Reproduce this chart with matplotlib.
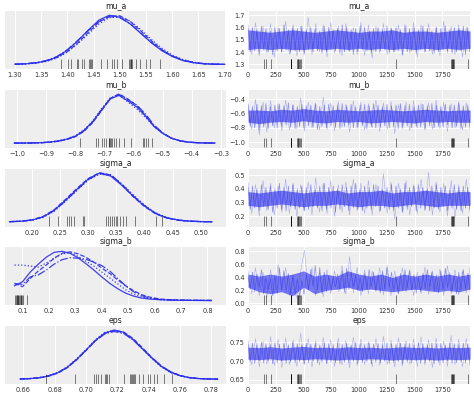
import numpy as np
import matplotlib.pyplot as plt
from matplotlib.ticker import MultipleLocator

names = ['mu_a', 'mu_b', 'sigma_a', 'sigma_b', 'eps']
blue = '#2a2eec'
styles = ['-', '--', ':', '-.']

# ---- KDE of each chain (relative density)
mu_a_x = [1.30, 1.32, 1.34, 1.36, 1.38, 1.40, 1.42, 1.44, 1.46, 1.48, 1.50,
          1.52, 1.54, 1.56, 1.58, 1.60, 1.62, 1.64, 1.66, 1.68, 1.70]
mu_a_kde = [
    [0.004, 0.012, 0.03, 0.07, 0.15, 0.29, 0.48, 0.70, 0.90, 1.00, 0.96, 0.82, 0.63, 0.44, 0.28, 0.16, 0.08, 0.035, 0.013, 0.004, 0.001],
    [0.003, 0.010, 0.03, 0.07, 0.14, 0.26, 0.44, 0.65, 0.86, 0.98, 0.99, 0.87, 0.68, 0.48, 0.30, 0.17, 0.08, 0.035, 0.012, 0.004, 0.001],
    [0.002, 0.008, 0.025, 0.06, 0.13, 0.25, 0.42, 0.62, 0.82, 0.95, 0.97, 0.88, 0.71, 0.51, 0.33, 0.19, 0.10, 0.045, 0.018, 0.006, 0.002],
    [0.004, 0.013, 0.035, 0.08, 0.16, 0.30, 0.49, 0.69, 0.87, 0.97, 0.95, 0.83, 0.64, 0.45, 0.29, 0.17, 0.09, 0.04, 0.015, 0.005, 0.001],
]
mu_b_x = [-1.01, -0.98, -0.95, -0.92, -0.89, -0.86, -0.83, -0.80, -0.77, -0.74, -0.71, -0.68,
          -0.65, -0.62, -0.59, -0.56, -0.53, -0.50, -0.47, -0.44, -0.41, -0.38, -0.35, -0.32]
mu_b_kde = [
    [0.000, 0.001, 0.003, 0.008, 0.02, 0.04, 0.08, 0.14, 0.26, 0.44, 0.68, 0.90, 0.97, 0.86, 0.74, 0.56, 0.34, 0.20, 0.10, 0.045, 0.018, 0.007, 0.002, 0.001],
    [0.000, 0.000, 0.002, 0.006, 0.015, 0.035, 0.07, 0.13, 0.24, 0.42, 0.66, 0.91, 1.00, 0.90, 0.77, 0.57, 0.35, 0.20, 0.10, 0.045, 0.018, 0.007, 0.002, 0.000],
    [0.001, 0.002, 0.004, 0.010, 0.022, 0.045, 0.085, 0.15, 0.27, 0.45, 0.70, 0.92, 0.98, 0.84, 0.70, 0.53, 0.34, 0.20, 0.10, 0.05, 0.02, 0.008, 0.003, 0.001],
    [0.000, 0.001, 0.003, 0.007, 0.018, 0.04, 0.08, 0.14, 0.25, 0.43, 0.67, 0.90, 0.99, 0.88, 0.78, 0.60, 0.37, 0.21, 0.10, 0.045, 0.018, 0.007, 0.002, 0.001],
]
sigma_a_x = [0.16, 0.18, 0.20, 0.22, 0.24, 0.26, 0.28, 0.30, 0.32, 0.34,
             0.36, 0.38, 0.40, 0.42, 0.44, 0.46, 0.48, 0.50, 0.52]
sigma_a_kde = [
    [0.002, 0.010, 0.035, 0.10, 0.24, 0.44, 0.66, 0.87, 0.99, 0.93, 0.74, 0.52, 0.32, 0.17, 0.08, 0.035, 0.013, 0.004, 0.001],
    [0.003, 0.012, 0.040, 0.11, 0.25, 0.46, 0.68, 0.88, 1.00, 0.95, 0.75, 0.51, 0.31, 0.16, 0.075, 0.03, 0.011, 0.003, 0.001],
    [0.002, 0.009, 0.030, 0.09, 0.22, 0.42, 0.64, 0.85, 0.97, 0.94, 0.77, 0.55, 0.34, 0.18, 0.085, 0.038, 0.015, 0.005, 0.001],
    [0.003, 0.011, 0.038, 0.10, 0.23, 0.43, 0.65, 0.86, 0.98, 0.96, 0.76, 0.53, 0.33, 0.17, 0.08, 0.033, 0.012, 0.004, 0.001],
]
sigma_b_x = [0.07, 0.10, 0.13, 0.16, 0.19, 0.22, 0.25, 0.28, 0.31, 0.34, 0.37, 0.40,
             0.43, 0.46, 0.49, 0.52, 0.55, 0.58, 0.62, 0.66, 0.70, 0.74, 0.78, 0.815]
sigma_b_kde = [
    [0.30, 0.38, 0.58, 0.74, 0.88, 0.98, 1.00, 0.96, 0.87, 0.75, 0.62, 0.48, 0.35, 0.24, 0.15, 0.09, 0.05, 0.03, 0.015, 0.008, 0.004, 0.002, 0.001, 0.0],
    [0.35, 0.28, 0.45, 0.60, 0.72, 0.86, 0.96, 0.99, 0.95, 0.88, 0.78, 0.66, 0.55, 0.42, 0.30, 0.20, 0.12, 0.07, 0.03, 0.015, 0.008, 0.004, 0.002, 0.001],
    [0.72, 0.72, 0.70, 0.68, 0.76, 0.86, 0.95, 0.97, 0.90, 0.80, 0.70, 0.58, 0.46, 0.34, 0.22, 0.13, 0.07, 0.04, 0.02, 0.01, 0.005, 0.002, 0.001, 0.0],
    [0.34, 0.33, 0.48, 0.52, 0.62, 0.74, 0.83, 0.87, 0.86, 0.84, 0.78, 0.71, 0.60, 0.45, 0.30, 0.18, 0.10, 0.05, 0.02, 0.01, 0.005, 0.002, 0.001, 0.0],
]
eps_x = [0.658, 0.664, 0.670, 0.676, 0.682, 0.688, 0.694, 0.700, 0.706, 0.712, 0.718,
         0.724, 0.730, 0.736, 0.742, 0.748, 0.754, 0.760, 0.766, 0.772, 0.778, 0.784]
eps_kde = [
    [0.004, 0.011, 0.028, 0.064, 0.13, 0.24, 0.40, 0.59, 0.79, 0.94, 1.00, 0.955, 0.81, 0.62, 0.43, 0.26, 0.14, 0.07, 0.03, 0.012, 0.005, 0.002],
    [0.003, 0.010, 0.026, 0.060, 0.12, 0.23, 0.39, 0.58, 0.78, 0.93, 0.99, 0.96, 0.83, 0.64, 0.44, 0.27, 0.15, 0.075, 0.032, 0.013, 0.005, 0.002],
    [0.005, 0.013, 0.031, 0.068, 0.14, 0.25, 0.41, 0.60, 0.80, 0.95, 0.99, 0.94, 0.80, 0.61, 0.42, 0.25, 0.135, 0.065, 0.028, 0.011, 0.004, 0.001],
    [0.004, 0.012, 0.029, 0.066, 0.13, 0.24, 0.40, 0.59, 0.78, 0.92, 0.97, 0.93, 0.80, 0.62, 0.44, 0.27, 0.15, 0.075, 0.033, 0.014, 0.006, 0.002],
]

# ---- traces: dense core band (every 100 draws), fuzz highs/lows and extreme excursions
knots = np.arange(0, 2001, 100)
mu_a_hi = [1.58, 1.57, 1.56, 1.57, 1.58, 1.57, 1.56, 1.57, 1.58, 1.57, 1.56, 1.57, 1.57, 1.58, 1.56, 1.57, 1.57, 1.56, 1.57, 1.58, 1.57]
mu_a_lo = [1.42, 1.43, 1.42, 1.43, 1.42, 1.42, 1.43, 1.42, 1.43, 1.42, 1.43, 1.42, 1.43, 1.42, 1.43, 1.42, 1.43, 1.42, 1.43, 1.42, 1.43]
mu_a_up = [1.59, 1.60, 1.58, 1.61, 1.59, 1.57, 1.60, 1.59, 1.62, 1.58, 1.60, 1.59, 1.61, 1.58, 1.60, 1.59, 1.57, 1.61, 1.60, 1.58, 1.59, 1.62, 1.60, 1.58, 1.59,
           1.61, 1.60, 1.57, 1.59, 1.60, 1.58, 1.61, 1.59, 1.60, 1.58, 1.62, 1.59, 1.60, 1.58, 1.61, 1.59, 1.57, 1.60, 1.59, 1.61, 1.58, 1.60, 1.59, 1.61, 1.60]
mu_a_dn = [1.40, 1.41, 1.39, 1.42, 1.40, 1.38, 1.41, 1.40, 1.42, 1.39, 1.41, 1.40, 1.38, 1.42, 1.40, 1.41, 1.39, 1.40, 1.42, 1.41, 1.39, 1.40, 1.41, 1.38, 1.40,
           1.42, 1.41, 1.39, 1.40, 1.41, 1.42, 1.39, 1.40, 1.41, 1.38, 1.40, 1.41, 1.39, 1.42, 1.40, 1.41, 1.39, 1.40, 1.42, 1.41, 1.39, 1.40, 1.41, 1.38, 1.40]
mu_a_spk = [1.62, 1.38, 1.64, 1.37, 1.61, 1.39, 1.63, 1.36, 1.60, 1.40, 1.65, 1.38, 1.62, 1.37, 1.61, 1.39, 1.68, 1.38, 1.63, 1.40,
            1.62, 1.36, 1.64, 1.39, 1.61, 1.37, 1.63, 1.40, 1.60, 1.38, 1.64, 1.37, 1.62, 1.35, 1.61, 1.39, 1.63, 1.38, 1.60, 1.40,
            1.62, 1.37, 1.61, 1.39, 1.64, 1.36, 1.62, 1.40, 1.63, 1.38, 1.60, 1.37, 1.65, 1.39, 1.61, 1.38, 1.62, 1.36, 1.60, 1.40]
mu_b_hi = [-0.55, -0.55, -0.56, -0.54, -0.55, -0.53, -0.55, -0.56, -0.54, -0.55, -0.56, -0.55, -0.54, -0.55, -0.56, -0.55, -0.54, -0.55, -0.56, -0.55, -0.55]
mu_b_lo = [-0.72, -0.74, -0.72, -0.71, -0.72, -0.70, -0.72, -0.73, -0.71, -0.72, -0.71, -0.73, -0.72, -0.71, -0.72, -0.73, -0.71, -0.72, -0.71, -0.72, -0.72]
mu_b_up = [-0.48, -0.50, -0.47, -0.49, -0.46, -0.50, -0.48, -0.47, -0.49, -0.45, -0.48, -0.50, -0.47, -0.49, -0.48, -0.46, -0.50, -0.48, -0.47, -0.49, -0.48, -0.46, -0.49, -0.47, -0.50,
           -0.48, -0.47, -0.49, -0.46, -0.48, -0.50, -0.47, -0.49, -0.48, -0.46, -0.49, -0.47, -0.50, -0.48, -0.47, -0.49, -0.46, -0.48, -0.50, -0.47, -0.49, -0.48, -0.46, -0.49, -0.48]
mu_b_dn = [-0.78, -0.80, -0.83, -0.79, -0.81, -0.77, -0.80, -0.78, -0.76, -0.79, -0.81, -0.78, -0.80, -0.77, -0.79, -0.82, -0.78, -0.80, -0.77, -0.79, -0.81, -0.78, -0.76, -0.80, -0.79,
           -0.77, -0.81, -0.78, -0.80, -0.79, -0.77, -0.80, -0.78, -0.81, -0.79, -0.77, -0.80, -0.78, -0.79, -0.81, -0.77, -0.80, -0.78, -0.79, -0.76, -0.80, -0.78, -0.81, -0.79, -0.78]
mu_b_spk = [-0.45, -0.82, -0.40, -0.90, -0.44, -0.86, -0.42, -0.80, -0.46, -0.84, -0.41, -0.83, -0.47, -0.81, -0.38, -0.85, -0.44, -0.80, -0.46, -0.83,
            -0.37, -0.82, -0.45, -0.84, -0.43, -0.79, -0.47, -0.86, -0.42, -0.81, -0.44, -0.83, -0.46, -0.80, -0.41, -0.85, -0.45, -0.82, -0.43, -0.88,
            -0.47, -0.81, -0.44, -0.84, -0.42, -0.80, -0.46, -0.83, -0.45, -0.82, -0.41, -0.81, -0.44, -0.85, -0.46, -0.80, -0.43, -0.83, -0.45, -0.82]
sigma_a_hi = [0.38, 0.37, 0.38, 0.39, 0.38, 0.37, 0.38, 0.38, 0.39, 0.37, 0.38, 0.38, 0.39, 0.37, 0.38, 0.38, 0.39, 0.38, 0.37, 0.38, 0.38]
sigma_a_lo = [0.28, 0.27, 0.28, 0.29, 0.28, 0.27, 0.28, 0.28, 0.29, 0.28, 0.27, 0.28, 0.28, 0.27, 0.28, 0.29, 0.28, 0.27, 0.28, 0.28, 0.28]
sigma_a_up = [0.41, 0.42, 0.40, 0.43, 0.41, 0.42, 0.40, 0.44, 0.41, 0.42, 0.43, 0.40, 0.42, 0.41, 0.43, 0.40, 0.42, 0.44, 0.41, 0.42, 0.40, 0.43, 0.41, 0.42, 0.44,
              0.40, 0.42, 0.41, 0.43, 0.42, 0.40, 0.41, 0.43, 0.42, 0.40, 0.44, 0.41, 0.42, 0.43, 0.41, 0.40, 0.42, 0.43, 0.41, 0.42, 0.40, 0.43, 0.41, 0.42, 0.41]
sigma_a_dn = [0.25, 0.26, 0.24, 0.27, 0.25, 0.23, 0.26, 0.25, 0.24, 0.27, 0.25, 0.26, 0.24, 0.25, 0.27, 0.26, 0.24, 0.25, 0.26, 0.23, 0.25, 0.27, 0.24, 0.26, 0.25,
              0.24, 0.26, 0.25, 0.27, 0.24, 0.26, 0.25, 0.24, 0.26, 0.23, 0.25, 0.27, 0.24, 0.26, 0.25, 0.24, 0.26, 0.25, 0.27, 0.24, 0.26, 0.25, 0.24, 0.26, 0.25]
sigma_a_spk = [0.45, 0.22, 0.43, 0.20, 0.46, 0.24, 0.44, 0.21, 0.42, 0.23, 0.47, 0.22, 0.44, 0.20, 0.43, 0.24, 0.45, 0.21, 0.48, 0.23,
               0.44, 0.22, 0.46, 0.20, 0.43, 0.23, 0.45, 0.21, 0.47, 0.24, 0.44, 0.22, 0.46, 0.21, 0.43, 0.23, 0.51, 0.22, 0.45, 0.18,
               0.44, 0.23, 0.46, 0.21, 0.43, 0.22, 0.47, 0.24, 0.52, 0.21, 0.45, 0.23, 0.44, 0.20, 0.46, 0.19, 0.43, 0.22, 0.47, 0.23]
sigma_b_hi = [0.45, 0.42, 0.45, 0.42, 0.45, 0.50, 0.42, 0.45, 0.42, 0.50, 0.45, 0.42, 0.45, 0.40, 0.45, 0.42, 0.45, 0.42, 0.45, 0.42, 0.45]
sigma_b_lo = [0.25, 0.18, 0.15, 0.18, 0.12, 0.25, 0.15, 0.20, 0.22, 0.25, 0.20, 0.22, 0.20, 0.18, 0.20, 0.22, 0.20, 0.18, 0.20, 0.18, 0.22]
sigma_b_up = [0.42, 0.48, 0.45, 0.52, 0.40, 0.38, 0.44, 0.55, 0.50, 0.46, 0.42, 0.38, 0.35, 0.45, 0.52, 0.58, 0.55, 0.48, 0.42, 0.40, 0.45, 0.50, 0.54, 0.48, 0.44,
              0.40, 0.46, 0.52, 0.48, 0.44, 0.50, 0.55, 0.48, 0.42, 0.46, 0.52, 0.50, 0.44, 0.40, 0.46, 0.52, 0.48, 0.44, 0.50, 0.54, 0.47, 0.43, 0.48, 0.52, 0.46]
sigma_b_dn = [0.22, 0.18, 0.25, 0.15, 0.20, 0.12, 0.15, 0.22, 0.18, 0.14, 0.12, 0.10, 0.14, 0.22, 0.26, 0.20, 0.15, 0.18, 0.22, 0.25, 0.20, 0.17, 0.22, 0.26, 0.20,
              0.18, 0.22, 0.25, 0.20, 0.16, 0.22, 0.25, 0.18, 0.15, 0.20, 0.24, 0.20, 0.16, 0.18, 0.22, 0.25, 0.19, 0.16, 0.22, 0.24, 0.18, 0.15, 0.20, 0.23, 0.19]
sigma_b_spk = [0.50, 0.15, 0.55, 0.12, 0.48, 0.10, 0.52, 0.14, 0.60, 0.18, 0.55, 0.12, 0.45, 0.09, 0.50, 0.82, 0.20, 0.55, 0.12, 0.48,
               0.10, 0.52, 0.15, 0.50, 0.18, 0.58, 0.14, 0.72, 0.16, 0.55, 0.12, 0.52, 0.15, 0.50, 0.18, 0.55, 0.13, 0.58, 0.12, 0.50,
               0.15, 0.55, 0.17, 0.52, 0.12, 0.48, 0.15, 0.56, 0.14, 0.50, 0.18, 0.53, 0.12, 0.58, 0.15, 0.52, 0.13, 0.50, 0.16, 0.55]
eps_hi = [0.737, 0.736, 0.738, 0.735, 0.737, 0.739, 0.736, 0.737, 0.735, 0.738, 0.736, 0.737, 0.735, 0.736, 0.738, 0.736, 0.737, 0.735, 0.737, 0.736, 0.737]
eps_lo = [0.705, 0.704, 0.706, 0.703, 0.705, 0.704, 0.706, 0.705, 0.703, 0.705, 0.704, 0.706, 0.705, 0.703, 0.705, 0.704, 0.705, 0.703, 0.705, 0.704, 0.705]
eps_up = [0.745, 0.748, 0.743, 0.750, 0.746, 0.744, 0.749, 0.745, 0.747, 0.743, 0.750, 0.746, 0.744, 0.748, 0.745, 0.747, 0.743, 0.749, 0.746, 0.744, 0.748, 0.745, 0.747, 0.743, 0.750,
          0.746, 0.744, 0.748, 0.745, 0.747, 0.743, 0.749, 0.746, 0.744, 0.748, 0.745, 0.747, 0.743, 0.750, 0.746, 0.744, 0.748, 0.745, 0.747, 0.743, 0.749, 0.746, 0.744, 0.748, 0.745]
eps_dn = [0.697, 0.694, 0.699, 0.695, 0.698, 0.693, 0.696, 0.699, 0.694, 0.697, 0.695, 0.698, 0.693, 0.696, 0.699, 0.695, 0.697, 0.694, 0.698, 0.696, 0.693, 0.697, 0.695, 0.699, 0.694,
          0.696, 0.698, 0.693, 0.697, 0.695, 0.699, 0.694, 0.696, 0.698, 0.693, 0.697, 0.695, 0.699, 0.694, 0.696, 0.698, 0.693, 0.697, 0.695, 0.699, 0.694, 0.696, 0.698, 0.695, 0.697]
eps_spk = [0.755, 0.690, 0.760, 0.685, 0.752, 0.692, 0.765, 0.688, 0.758, 0.683, 0.762, 0.690, 0.756, 0.686, 0.775, 0.691, 0.760, 0.684, 0.754, 0.689,
           0.763, 0.692, 0.757, 0.686, 0.761, 0.690, 0.755, 0.682, 0.764, 0.688, 0.758, 0.691, 0.752, 0.685, 0.760, 0.689, 0.766, 0.690, 0.756, 0.684,
           0.762, 0.687, 0.755, 0.692, 0.759, 0.686, 0.764, 0.690, 0.757, 0.683, 0.761, 0.689, 0.754, 0.686, 0.768, 0.691, 0.758, 0.685, 0.760, 0.688]

# ---- divergences: draw index and the value of each parameter there
div_draws = [148, 163, 210, 383, 386, 389, 391, 441, 447, 452, 456, 466, 480,
             1336, 1829, 1834, 1838, 1842, 1847, 1851, 1983]
mu_a_div = [1.387, 1.401, 1.406, 1.418, 1.421, 1.428, 1.432, 1.442, 1.444, 1.445, 1.446, 1.465, 1.476, 1.485,
            1.489, 1.495, 1.505, 1.517, 1.519, 1.521, 1.522, 1.524, 1.530, 1.539, 1.549, 1.558, 1.577]
mu_b_div = [-0.783, -0.730, -0.722, -0.709, -0.701, -0.693, -0.686, -0.684, -0.682, -0.678, -0.675,
            -0.667, -0.659, -0.650, -0.633, -0.607, -0.568, -0.563, -0.557, -0.551, -0.537]
sigma_a_div = [0.230, 0.246, 0.262, 0.266, 0.270, 0.274, 0.290, 0.293, 0.331, 0.335, 0.339,
               0.342, 0.345, 0.349, 0.352, 0.357, 0.361, 0.368, 0.384, 0.420, 0.432]
sigma_b_div = [0.072, 0.075, 0.078, 0.080, 0.083, 0.085, 0.088, 0.090, 0.093, 0.096, 0.099, 0.102, 0.118]
eps_div = [0.6747, 0.6933, 0.7053, 0.7067, 0.7080, 0.7095, 0.7122, 0.7131, 0.7137, 0.7147, 0.7242, 0.7278, 0.7288,
           0.7295, 0.7301, 0.7305, 0.7316, 0.7337, 0.7362, 0.7396, 0.7410, 0.7436, 0.7453, 0.7499, 0.7547]

kde_x = [mu_a_x, mu_b_x, sigma_a_x, sigma_b_x, eps_x]
kde_y = [mu_a_kde, mu_b_kde, sigma_a_kde, sigma_b_kde, eps_kde]
tr_hi = [mu_a_hi, mu_b_hi, sigma_a_hi, sigma_b_hi, eps_hi]
tr_lo = [mu_a_lo, mu_b_lo, sigma_a_lo, sigma_b_lo, eps_lo]
tr_up = [mu_a_up, mu_b_up, sigma_a_up, sigma_b_up, eps_up]
tr_dn = [mu_a_dn, mu_b_dn, sigma_a_dn, sigma_b_dn, eps_dn]
tr_spk = [mu_a_spk, mu_b_spk, sigma_a_spk, sigma_b_spk, eps_spk]
divs = [mu_a_div, mu_b_div, sigma_a_div, sigma_b_div, eps_div]

# axis settings per row
kde_xlim = [(1.281, 1.7025), (-1.042, -0.282), (0.152, 0.545), (0.034, 0.870), (0.6484, 0.7893)]
kde_step = [0.05, 0.1, 0.05, 0.1, 0.02]
tr_ylim = [(1.26, 1.73), (-1.08, -0.27), (0.125, 0.546), (-0.03, 0.86), (0.639, 0.793)]
tr_step = [0.1, 0.2, 0.1, 0.2, 0.05]

plt.rcParams['font.family'] = 'DejaVu Sans'
fig = plt.figure(figsize=(4.74, 3.95), dpi=100)
W, H = 474.0, 395.0


def style(ax):
    ax.set_facecolor('#eeeeee')
    for s in ax.spines.values():
        s.set_visible(False)
    ax.grid(True, color='white', lw=0.8)
    ax.set_axisbelow(True)
    ax.tick_params(length=0, labelsize=4.8, colors='#333333', pad=2.2)


for i, name in enumerate(names):
    top = 11.3 + 78.7 * i
    bot = 1 - (top + 58) / H
    axl = fig.add_axes([5 / W, bot, 221 / W, 58 / H])
    axr = fig.add_axes([248 / W, bot, 222 / W, 58 / H])
    style(axl)
    style(axr)

    for c in range(4):
        axl.plot(kde_x[i], kde_y[i][c], color=blue, ls=styles[c], lw=0.9, alpha=0.9)
    axl.vlines(divs[i], 0.01, 0.18, transform=axl.get_xaxis_transform(),
               colors='k', lw=0.7, alpha=0.5)
    axl.set_xlim(*kde_xlim[i])
    axl.set_ylim(-0.1, 1.08)
    axl.set_yticks([])
    axl.xaxis.set_major_locator(MultipleLocator(kde_step[i]))
    axl.set_title(name, fontsize=5.6, pad=2.2, color='#222222')

    fuzz = np.empty(2 * len(tr_up[i]))
    fuzz[0::2] = tr_up[i]
    fuzz[1::2] = tr_dn[i]
    axr.fill_between(knots, tr_lo[i], tr_hi[i], color=blue, alpha=0.62, lw=0)
    axr.plot(np.linspace(0, 1999, len(fuzz)), fuzz, color=blue, lw=0.5, alpha=0.5)
    axr.plot(np.linspace(0, 1999, len(tr_spk[i])), tr_spk[i], color=blue, lw=0.4, alpha=0.35)
    axr.vlines(div_draws, 0.01, 0.18, transform=axr.get_xaxis_transform(),
               colors='k', lw=0.7, alpha=0.5)
    axr.set_xlim(0, 1999)
    axr.set_ylim(*tr_ylim[i])
    axr.xaxis.set_major_locator(MultipleLocator(250))
    axr.yaxis.set_major_locator(MultipleLocator(tr_step[i]))
    axr.set_title(name, fontsize=5.6, pad=2.2, color='#222222')

fig.savefig('out.png', dpi=100)
